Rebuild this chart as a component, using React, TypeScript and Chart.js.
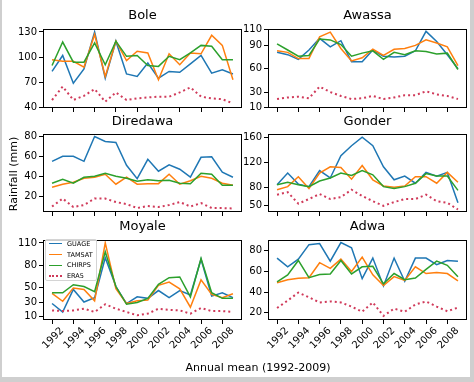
import React, { useEffect, useRef } from 'react';
import { Chart, registerables } from 'chart.js';

Chart.register(...registerables);

const YEARS = [1992, 1993, 1994, 1995, 1996, 1997, 1998, 1999, 2000, 2001, 2002, 2003, 2004, 2005, 2006, 2007, 2008, 2009];
const X_TICKS = [1992, 1994, 1996, 1998, 2000, 2002, 2004, 2006, 2008];
const SERIES_NAMES = ['GUAGE', 'TAMSAT', 'CHIRPS', 'ERA5'];

const BOLE_GUAGE = [83, 102, 69, 86, 130, 75, 119, 80, 77, 93, 75, 83, 82, 92, 102, 81, 85, 80];
const BOLE_TAMSAT = [97, 95, 95, 88, 127, 77, 119, 96, 107, 105, 73, 104, 91, 105, 104, 126, 114, 73];
const BOLE_CHIRPS = [90, 118, 94, 94, 117, 91, 119, 101, 102, 90, 89, 101, 97, 105, 114, 113, 97, 97];
const BOLE_ERA5 = [49, 65, 49, 54, 62, 47, 58, 49, 51, 52, 53, 53, 58, 64, 53, 51, 50, 45];
const BOLE_TICKS = [40, 70, 100, 130];

const AWASSA_GUAGE = [81, 78, 72, 84, 99, 88, 96, 69, 69, 84, 76, 75, 76, 83, 108, 95, 78, 60];
const AWASSA_TAMSAT = [83, 81, 73, 73, 101, 107, 86, 70, 74, 85, 77, 85, 86, 90, 97, 93, 88, 64];
const AWASSA_CHIRPS = [92, 84, 76, 77, 98, 97, 91, 76, 80, 83, 72, 81, 78, 83, 82, 79, 80, 59];
const AWASSA_ERA5 = [21, 23, 24, 22, 37, 30, 25, 21, 22, 25, 21, 23, 26, 26, 31, 27, 25, 21];
const AWASSA_TICKS = [10, 30, 60, 90, 110];

const DIREDAWA_GUAGE = [55, 60, 60, 55, 80, 75, 74, 51, 37.5, 57, 45, 51.5, 47, 39, 59, 59.5, 44, 39];
const DIREDAWA_TAMSAT = [29, 32, 34, 38, 39, 42, 32, 39, 32, 32.5, 32.5, 42, 32, 35.5, 40, 38, 33, 31];
const DIREDAWA_CHIRPS = [33, 37, 33, 39, 40, 43, 40, 38, 35, 36.5, 35.5, 36, 33, 32.5, 43, 42, 31, 31];
const DIREDAWA_ERA5 = [9.5, 17.5, 9, 11, 17.5, 17.5, 14, 12, 8, 10, 9, 11, 14, 9.5, 13, 8, 8, 7.5];
const DIREDAWA_TICKS = [20, 40, 60, 80];

const GONDER_GUAGE = [84, 103, 85, 81, 107, 95, 131, 147, 161, 147, 113, 92, 98, 86.5, 104, 98, 104, 55];
const GONDER_TAMSAT = [76, 81, 97, 78, 103, 113, 112, 93, 115, 92, 82, 80, 82, 97, 97, 86.5, 104, 88];
const GONDER_CHIRPS = [84, 88, 84, 81, 90, 95, 103, 99, 107, 100, 81, 78, 81, 86.5, 102, 98, 98, 75];
const GONDER_ERA5 = [68, 72, 53.5, 61, 69, 61, 64, 76, 66, 57.5, 50, 56, 61, 61, 68, 57.5, 55, 44];
const GONDER_TICKS = [50, 80, 120, 160];

const MOYALE_GUAGE = [28, 16.5, 47, 30, 36, 90, 51, 28, 37, 35, 45.6, 36, 45.6, 39.5, 88, 38, 42.6, 36];
const MOYALE_TAMSAT = [41.7, 31, 49, 47, 31.7, 110, 48, 28, 31.7, 32.6, 52.6, 57, 48, 23, 60, 40.4, 36, 41.3];
const MOYALE_CHIRPS = [42.6, 42.6, 53.5, 51, 44, 98, 51, 27, 29.5, 35, 54, 63, 64, 37, 89, 42.6, 35, 35];
const MOYALE_ERA5 = [18.7, 17.8, 18.7, 21, 16.5, 27, 21, 16.5, 12, 14.3, 21, 19.5, 18.7, 14.3, 22, 17.8, 17.8, 16.5];
const MOYALE_TICKS = [10, 30, 50, 80, 110];

const ADWA_GUAGE = [73, 64.5, 72, 86, 87, 70, 88, 83, 53, 73, 46, 73, 50.5, 73, 73, 66.6, 70.7, 70];
const ADWA_TAMSAT = [49, 52, 53.5, 54, 68.5, 63, 72, 60, 74, 56.7, 46.4, 55, 51.4, 64.5, 58, 59, 58, 51];
const ADWA_CHIRPS = [50, 56.7, 70.7, 54, 57, 57.6, 70.7, 57.6, 64.5, 65, 48, 58, 52, 53.6, 62, 70, 66, 55];
const ADWA_ERA5 = [24.6, 31.8, 39.6, 35, 30, 31, 30, 26, 21, 30, 17, 24, 21, 28, 31, 26, 21.5, 25];
const ADWA_TICKS = [20, 40, 60, 80];

const COLORS = ['#1f77b4', '#ff7f0e', '#2ca02c', '#d03a5a'];
const FONT = 'DejaVu Sans';

type Station = {
  name: string;
  series: number[][];
  ticks: number[];
  yMin: number;
  yMax: number;
  col: number;
  row: number;
};

const STATIONS: Station[] = [
  { name: 'Bole', series: [BOLE_GUAGE, BOLE_TAMSAT, BOLE_CHIRPS, BOLE_ERA5], ticks: BOLE_TICKS, yMin: 39.5, yMax: 133.5, col: 0, row: 0 },
  { name: 'Awassa', series: [AWASSA_GUAGE, AWASSA_TAMSAT, AWASSA_CHIRPS, AWASSA_ERA5], ticks: AWASSA_TICKS, yMin: 9.5, yMax: 111, col: 1, row: 0 },
  { name: 'Diredawa', series: [DIREDAWA_GUAGE, DIREDAWA_TAMSAT, DIREDAWA_CHIRPS, DIREDAWA_ERA5], ticks: DIREDAWA_TICKS, yMin: 4, yMax: 82.5, col: 0, row: 1 },
  { name: 'Gonder', series: [GONDER_GUAGE, GONDER_TAMSAT, GONDER_CHIRPS, GONDER_ERA5], ticks: GONDER_TICKS, yMin: 40, yMax: 166, col: 1, row: 1 },
  { name: 'Moyale', series: [MOYALE_GUAGE, MOYALE_TAMSAT, MOYALE_CHIRPS, MOYALE_ERA5], ticks: MOYALE_TICKS, yMin: 5.7, yMax: 114, col: 0, row: 2 },
  { name: 'Adwa', series: [ADWA_GUAGE, ADWA_TAMSAT, ADWA_CHIRPS, ADWA_ERA5], ticks: ADWA_TICKS, yMin: 13, yMax: 90.5, col: 1, row: 2 },
];

const COLS = [
  { canvasLeft: 0, canvasWidth: 248, plotLeft: 43, plotRight: 242 },
  { canvasLeft: 236, canvasWidth: 238, plotLeft: 268, plotRight: 467 },
];
const ROWS = [
  { plotTop: 26, plotBottom: 110, xLabels: false, titleTop: 7 },
  { plotTop: 131, plotBottom: 214, xLabels: false, titleTop: 113 },
  { plotTop: 237, plotBottom: 320, xLabels: true, titleTop: 218 },
];
const PAD_TOP = 5;

const framePlugin = {
  id: 'frame',
  afterDatasetsDraw(chart: any) {
    const { ctx, chartArea: a } = chart;
    ctx.save();
    ctx.strokeStyle = '#000';
    ctx.lineWidth = 1;
    const l = Math.floor(a.left) + 0.5;
    const t = Math.floor(a.top) + 0.5;
    const r = Math.floor(a.right) - 0.5;
    const b = Math.floor(a.bottom) - 0.5;
    ctx.strokeRect(l, t, r - l, b - t);
    ctx.restore();
  },
};

function Panel({ st }: { st: Station }) {
  const ref = useRef<HTMLCanvasElement>(null);
  const col = COLS[st.col];
  const row = ROWS[st.row];
  const xAxisH = row.xLabels ? 45 : 6;
  const plotH = row.plotBottom - row.plotTop;
  const canvasH = PAD_TOP + plotH + xAxisH;
  const canvasTop = row.plotTop - PAD_TOP;
  const axisW = col.plotLeft - col.canvasLeft;
  const padRight = col.canvasLeft + col.canvasWidth - col.plotRight;

  useEffect(() => {
    if (!ref.current) return;
    const datasets = st.series.map((vals, i) => ({
      label: SERIES_NAMES[i],
      data: YEARS.map((y, j) => ({ x: y, y: vals[j] })),
      borderColor: COLORS[i],
      backgroundColor: COLORS[i],
      borderWidth: i === 3 ? 2 : 1.5,
      borderDash: i === 3 ? [2, 3] : [],
      pointRadius: 0,
      tension: 0,
      fill: false,
      order: 4 - i,
    }));
    const gridOpts = {
      drawOnChartArea: false,
      drawTicks: true,
      tickLength: 4,
      tickColor: '#000',
      tickWidth: 1,
    };
    const chart = new Chart(ref.current, {
      type: 'line',
      data: { datasets },
      plugins: [framePlugin],
      options: {
        responsive: false,
        animation: false,
        devicePixelRatio: 1,
        layout: { padding: { top: PAD_TOP, right: padRight, bottom: 0, left: 0 } },
        plugins: { legend: { display: false }, tooltip: { enabled: false }, title: { display: false } },
        scales: {
          x: {
            type: 'linear',
            min: 1991.15,
            max: 2009.85,
            bounds: 'data',
            afterBuildTicks: (s: any) => {
              s.ticks = X_TICKS.map((v) => ({ value: v }));
            },
            afterFit: (s: any) => {
              s.height = xAxisH;
            },
            grid: gridOpts,
            border: { display: false },
            ticks: row.xLabels
              ? {
                  display: true,
                  autoSkip: false,
                  minRotation: 45,
                  maxRotation: 45,
                  padding: 1,
                  labelOffset: 10,
                  color: '#000',
                  font: { family: FONT, size: 10 },
                  callback: (v: any) => String(v),
                }
              : { display: false },
          },
          y: {
            type: 'linear',
            min: st.yMin,
            max: st.yMax,
            bounds: 'data',
            afterBuildTicks: (s: any) => {
              s.ticks = st.ticks.map((v) => ({ value: v }));
            },
            afterFit: (s: any) => {
              s.width = axisW;
            },
            grid: gridOpts,
            border: { display: false },
            ticks: {
              color: '#000',
              padding: 2,
              font: { family: FONT, size: 10 },
              callback: (v: any) => String(v),
            },
          },
        },
      } as any,
    });
    return () => chart.destroy();
  }, []);

  return (
    <>
      <canvas
        ref={ref}
        width={col.canvasWidth}
        height={canvasH}
        style={{ position: 'absolute', left: col.canvasLeft, top: canvasTop, width: col.canvasWidth, height: canvasH }}
      />
      <div
        style={{
          position: 'absolute',
          left: col.plotLeft,
          width: col.plotRight - col.plotLeft,
          top: row.titleTop,
          textAlign: 'center',
          fontFamily: FONT,
          fontSize: 13,
          lineHeight: '15px',
          color: '#000',
          whiteSpace: 'nowrap',
        }}
      >
        {st.name}
      </div>
    </>
  );
}

function Legend() {
  const rows = [4, 14.7, 25.4, 36];
  return (
    <div
      style={{
        position: 'absolute',
        left: 45,
        top: 239,
        width: 52,
        height: 42,
        border: '1px solid #d4d4d4',
        borderRadius: 2,
        background: 'rgba(255,255,255,0.8)',
        boxSizing: 'border-box',
      }}
    >
      {SERIES_NAMES.map((n, i) => (
        <React.Fragment key={n}>
          <div
            style={{
              position: 'absolute',
              left: 3,
              top: rows[i] - (i === 3 ? 1 : 0.75),
              width: 13,
              height: 0,
              borderTop: i === 3 ? `2px dotted ${COLORS[i]}` : `1.5px solid ${COLORS[i]}`,
            }}
          />
          <div
            style={{
              position: 'absolute',
              left: 21,
              top: rows[i] - 4,
              fontFamily: FONT,
              fontSize: 6.5,
              lineHeight: '8px',
              color: '#000',
              whiteSpace: 'nowrap',
            }}
          >
            {n}
          </div>
        </React.Fragment>
      ))}
    </div>
  );
}

export default function App() {
  return (
    <div style={{ position: 'fixed', left: 0, top: 0, width: 474, height: 382, background: '#cfcfcf', overflow: 'hidden' }}>
      <div style={{ position: 'absolute', left: 2, top: 0, width: 468, height: 377, background: '#fff' }} />
      {STATIONS.map((st) => (
        <Panel key={st.name} st={st} />
      ))}
      <Legend />
      <div
        style={{
          position: 'absolute',
          left: 14 - 60,
          top: 174 - 7,
          width: 120,
          height: 14,
          lineHeight: '14px',
          textAlign: 'center',
          fontFamily: FONT,
          fontSize: 11,
          color: '#000',
          transform: 'rotate(-90deg)',
          whiteSpace: 'nowrap',
        }}
      >
        Rainfall (mm)
      </div>
      <div
        style={{
          position: 'absolute',
          left: 258 - 100,
          width: 200,
          top: 361,
          textAlign: 'center',
          fontFamily: FONT,
          fontSize: 11,
          lineHeight: '13px',
          color: '#000',
          whiteSpace: 'nowrap',
        }}
      >
        Annual mean (1992-2009)
      </div>
    </div>
  );
}
